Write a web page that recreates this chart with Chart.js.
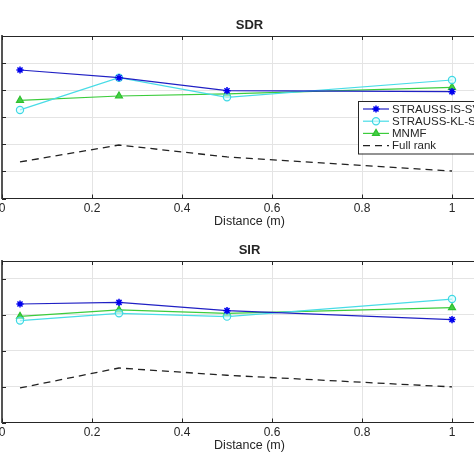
<!DOCTYPE html>
<html>
<head>
<meta charset="utf-8">
<script src="https://cdn.jsdelivr.net/npm/chart.js@4.4.1/dist/chart.umd.min.js"></script>
<style>
  html, body { margin: 0; padding: 0; background: #fff; }
  #fig { position: relative; width: 474px; height: 474px; overflow: hidden; background: #fff; }
  #fig canvas { position: absolute; left: -38px; }
</style>
</head>
<body>
<div id="fig">
  <canvas id="sdr" width="550" height="237" style="top:0px"></canvas>
  <canvas id="sir" width="550" height="237" style="top:237px"></canvas>
</div>
<script>
// distances (m)
const distances = [0.04, 0.26, 0.5, 1.0];

const seriesNames = ['STRAUSS-IS-SV', 'STRAUSS-KL-SV', 'MNMF', 'Full rank'];

// SDR values (dB)
const sdrIS = [9.49, 8.92, 7.96, 7.89];
const sdrKL = [6.54, 8.92, 7.47, 8.75];
const sdrMNMF = [7.25, 7.57, 7.72, 8.21];
const sdrFull = [2.70, 3.95, 3.07, 2.03];

// SIR values (dB)
const sirIS = [16.51, 16.73, 15.58, 14.34];
const sirKL = [14.20, 15.21, 14.75, 17.20];
const sirMNMF = [14.79, 15.68, 15.21, 16.00];
const sirFull = [4.82, 7.59, 6.58, 4.96];

const xTicks = [0, 0.2, 0.4, 0.6, 0.8, 1];
const sdrTicks = [0, 2, 4, 6, 8, 10, 12];
const sirTicks = [0, 5, 10, 15, 20];

const axisColor = '#262626';
const gridColor = '#e4e4e4';
const font = 'Liberation Sans, Arial, Helvetica, sans-serif';

const styles = [
  { borderColor: '#2020c4', pointBackgroundColor: '#0000ee', pointBorderColor: '#0000ee', pointStyle: 'star', pointRadius: 3.6, pointBorderWidth: 1.5, borderWidth: 1.2 },
  { borderColor: '#48dce6', pointBackgroundColor: 'rgba(220,255,255,0.6)', pointBorderColor: '#3fd8e4', pointStyle: 'circle', pointRadius: 3.6, pointBorderWidth: 1.2, borderWidth: 1.2 },
  { borderColor: '#3ccc3c', pointBackgroundColor: '#44d044', pointBorderColor: '#2fbf2f', pointStyle: 'triangle', pointRadius: 4, pointBorderWidth: 1.2, borderWidth: 1.2 },
  { borderColor: '#222222', pointRadius: 0, borderDash: [7, 5], borderWidth: 1.3 }
];

function makeDatasets(lists) {
  return lists.map((vals, i) => Object.assign({
    label: seriesNames[i],
    data: distances.map((d, j) => ({ x: d, y: vals[j] })),
    fill: false,
    tension: 0
  }, styles[i]));
}

// titles, top border, inward MATLAB-style ticks, legend
const matlabBox = {
  id: 'matlabBox',
  afterDraw(chart, args, opts) {
    const c = chart.ctx;
    const a = chart.chartArea;
    const xs = chart.scales.x, ys = chart.scales.y;
    c.save();
    c.strokeStyle = axisColor;
    c.lineWidth = 1;
    c.beginPath();
    c.moveTo(a.left, a.top + 0.5); c.lineTo(a.right, a.top + 0.5);
    c.moveTo(a.right - 0.5, a.top); c.lineTo(a.right - 0.5, a.bottom);
    xTicks.forEach(v => {
      const px = Math.round(xs.getPixelForValue(v)) + 0.5;
      c.moveTo(px, a.bottom); c.lineTo(px, a.bottom - 4);
      c.moveTo(px, a.top); c.lineTo(px, a.top + 4);
    });
    opts.yTicks.forEach(v => {
      const py = Math.round(ys.getPixelForValue(v)) + 0.5;
      c.moveTo(a.left, py); c.lineTo(a.left + 4, py);
    });
    c.stroke();

    c.fillStyle = axisColor;
    c.textAlign = 'center';
    c.textBaseline = 'middle';
    const cx = (a.left + a.right) / 2;
    c.font = 'bold 13px ' + font;
    c.fillText(opts.title, cx, a.top - 11);
    c.font = '12.5px ' + font;
    c.fillText('Distance (m)', cx, a.bottom + 23);

    if (opts.legend) {
      const lx = a.left + 356, ly = a.top + 65;
      c.fillStyle = '#ffffff';
      c.fillRect(lx, ly, 170, 52.5);
      c.strokeStyle = axisColor;
      c.strokeRect(lx + 0.5, ly + 0.5, 170, 52.5);
      c.font = '11.5px ' + font;
      c.textAlign = 'left';
      chart.data.datasets.forEach((ds, i) => {
        const ry = ly + 8 + i * 12.2;
        c.strokeStyle = ds.borderColor;
        c.lineWidth = ds.borderWidth;
        c.setLineDash(ds.borderDash || []);
        c.beginPath();
        c.moveTo(lx + 5, ry); c.lineTo(lx + 31, ry);
        c.stroke();
        c.setLineDash([]);
        if (ds.pointRadius > 0) {
          c.fillStyle = ds.pointBackgroundColor;
          c.strokeStyle = ds.pointBorderColor;
          c.lineWidth = ds.pointBorderWidth;
          Chart.helpers.drawPoint(c, { pointStyle: ds.pointStyle, radius: ds.pointRadius, borderWidth: ds.pointBorderWidth, rotation: 0 }, lx + 18, ry);
        }
        c.fillStyle = axisColor;
        c.fillText(ds.label, lx + 34, ry + 0.5);
      });
    }
    c.restore();
  }
};

function makeChart(id, lists, yMax, yTicks, title, padTop, xHeight, legend) {
  return new Chart(document.getElementById(id).getContext('2d'), {
    type: 'line',
    data: { datasets: makeDatasets(lists) },
    plugins: [matlabBox],
    options: {
      responsive: false,
      animation: false,
      layout: { padding: { top: padTop, right: 15, left: 0, bottom: 0 } },
      plugins: {
        legend: { display: false },
        tooltip: { enabled: false },
        matlabBox: { title: title, yTicks: yTicks, legend: legend }
      },
      scales: {
        x: {
          type: 'linear',
          min: 0,
          max: 1.1,
          afterBuildTicks: s => { s.ticks = xTicks.map(v => ({ value: v })); },
          afterFit: s => { s.height = xHeight; },
          grid: { color: gridColor, drawTicks: false },
          border: { color: axisColor, width: 1 },
          ticks: { padding: 3, color: axisColor, font: { family: font, size: 12 }, callback: v => String(v) }
        },
        y: {
          min: 0,
          max: yMax,
          afterBuildTicks: s => { s.ticks = yTicks.map(v => ({ value: v })); },
          afterFit: s => { s.width = 40; },
          grid: { color: gridColor, drawTicks: false },
          border: { color: '#555555', width: 2 },
          ticks: { padding: 4, color: axisColor, font: { family: font, size: 12 } }
        }
      }
    }
  });
}

makeChart('sdr', [sdrIS, sdrKL, sdrMNMF, sdrFull], 12, sdrTicks, 'SDR', 36, 38.5, true);
makeChart('sir', [sirIS, sirKL, sirMNMF, sirFull], 22.5, sirTicks, 'SIR', 24, 51.5, false);
</script>
</body>
</html>
